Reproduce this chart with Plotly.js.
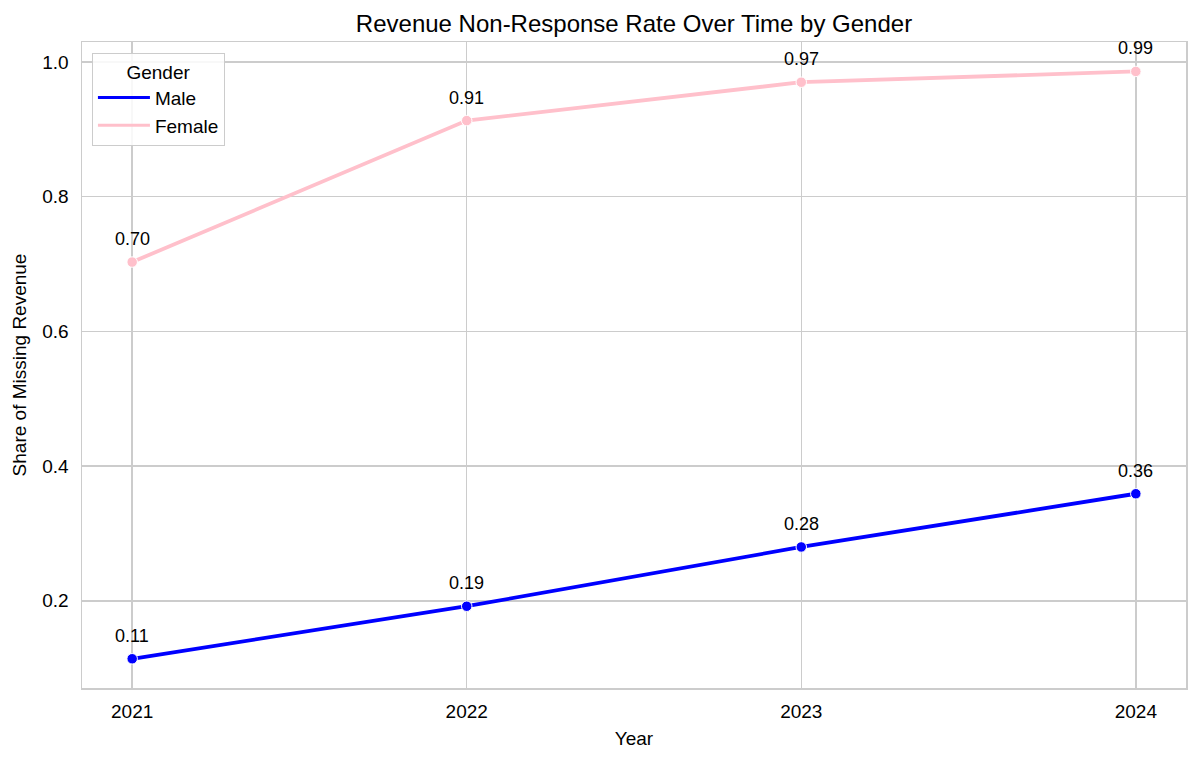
<!DOCTYPE html>
<html><head><meta charset="utf-8">
<script src="https://cdn.plot.ly/plotly-3.0.1.min.js"></script>
<style>html,body{margin:0;padding:0;background:#fff}#chart{width:1200px;height:761px}</style>
</head><body><div id="chart"></div>
<script>
const years = [2021, 2022, 2023, 2024];
const maleValues = [0.114, 0.192, 0.280, 0.359];
const femaleValues = [0.703, 0.913, 0.970, 0.986];
const seriesNames = ["Male", "Female"];
const seriesColors = ["#0000ff", "#ffc0cb"];
const yTicks = [0.2, 0.4, 0.6, 0.8, 1.0];
const yTickLabels = ["0.2", "0.4", "0.6", "0.8", "1.0"];

const font = "Liberation Sans, Arial, sans-serif";
const allSeries = [maleValues, femaleValues];
const traces = allSeries.map((vals, i) => ({
  x: years, y: vals, name: seriesNames[i], type: "scatter", mode: "lines+markers",
  line: {color: seriesColors[i], width: 3.8},
  marker: {color: seriesColors[i], size: 10.5, line: {color: "#fff", width: 1}},
  cliponaxis: false, showlegend: false
}));
// legend entries: line only
seriesNames.forEach((n, i) => traces.push({
  x: [null], y: [null], name: n, type: "scatter", mode: "lines",
  line: {color: seriesColors[i], width: 3}, showlegend: true
}));
const annotations = [];
allSeries.forEach(vals => vals.forEach((v, j) => annotations.push({
  x: years[j], y: v, text: v.toFixed(2), showarrow: false, xref: "x", yref: "y",
  yshift: 23, font: {family: font, size: 18, color: "#000"}
})));

const layout = {
  width: 1200, height: 761,
  margin: {l: 82, r: 14, t: 42, b: 73},
  paper_bgcolor: "#fff", plot_bgcolor: "#fff",
  font: {family: font, color: "#000"},
  title: {text: "Revenue Non-Response Rate Over Time by Gender", xref: "paper", x: 0.5, xanchor: "center",
          yref: "container", y: 0.98, yanchor: "top",
          font: {family: font, size: 24, color: "#000"}},
  xaxis: {range: [2020.85, 2024.15], tickvals: years, ticktext: years.map(String),
          showgrid: true, gridcolor: "#cccccc", gridwidth: 1.5, zeroline: false,
          showline: true, linecolor: "#cccccc", linewidth: 1.5, mirror: true,
          ticks: "", tickfont: {size: 19, family: font}, ticklabelstandoff: 6,
          title: {text: "Year", font: {size: 19, family: font}, standoff: 10}},
  yaxis: {range: [0.0706, 1.0297], tickvals: yTicks, ticktext: yTickLabels,
          showgrid: true, gridcolor: "#cccccc", gridwidth: 1.5, zeroline: false,
          showline: true, linecolor: "#cccccc", linewidth: 1.5, mirror: true,
          ticks: "", tickfont: {size: 19, family: font}, ticklabelstandoff: 8,
          title: {text: "Share of Missing Revenue", font: {size: 19, family: font}, standoff: 10}},
  legend: {x: 0.009, y: 0.983, xanchor: "left", yanchor: "top", bgcolor: "rgba(255,255,255,0.85)",
           bordercolor: "#cccccc", borderwidth: 1, font: {size: 19, family: font},
           title: {text: "Gender", side: "top center", font: {size: 19, family: font}},
           itemwidth: 52, tracegroupgap: 0},
  annotations: annotations,
  showlegend: true
};
Plotly.newPlot("chart", traces, layout, {displayModeBar: false, staticPlot: true});
</script></body></html>
